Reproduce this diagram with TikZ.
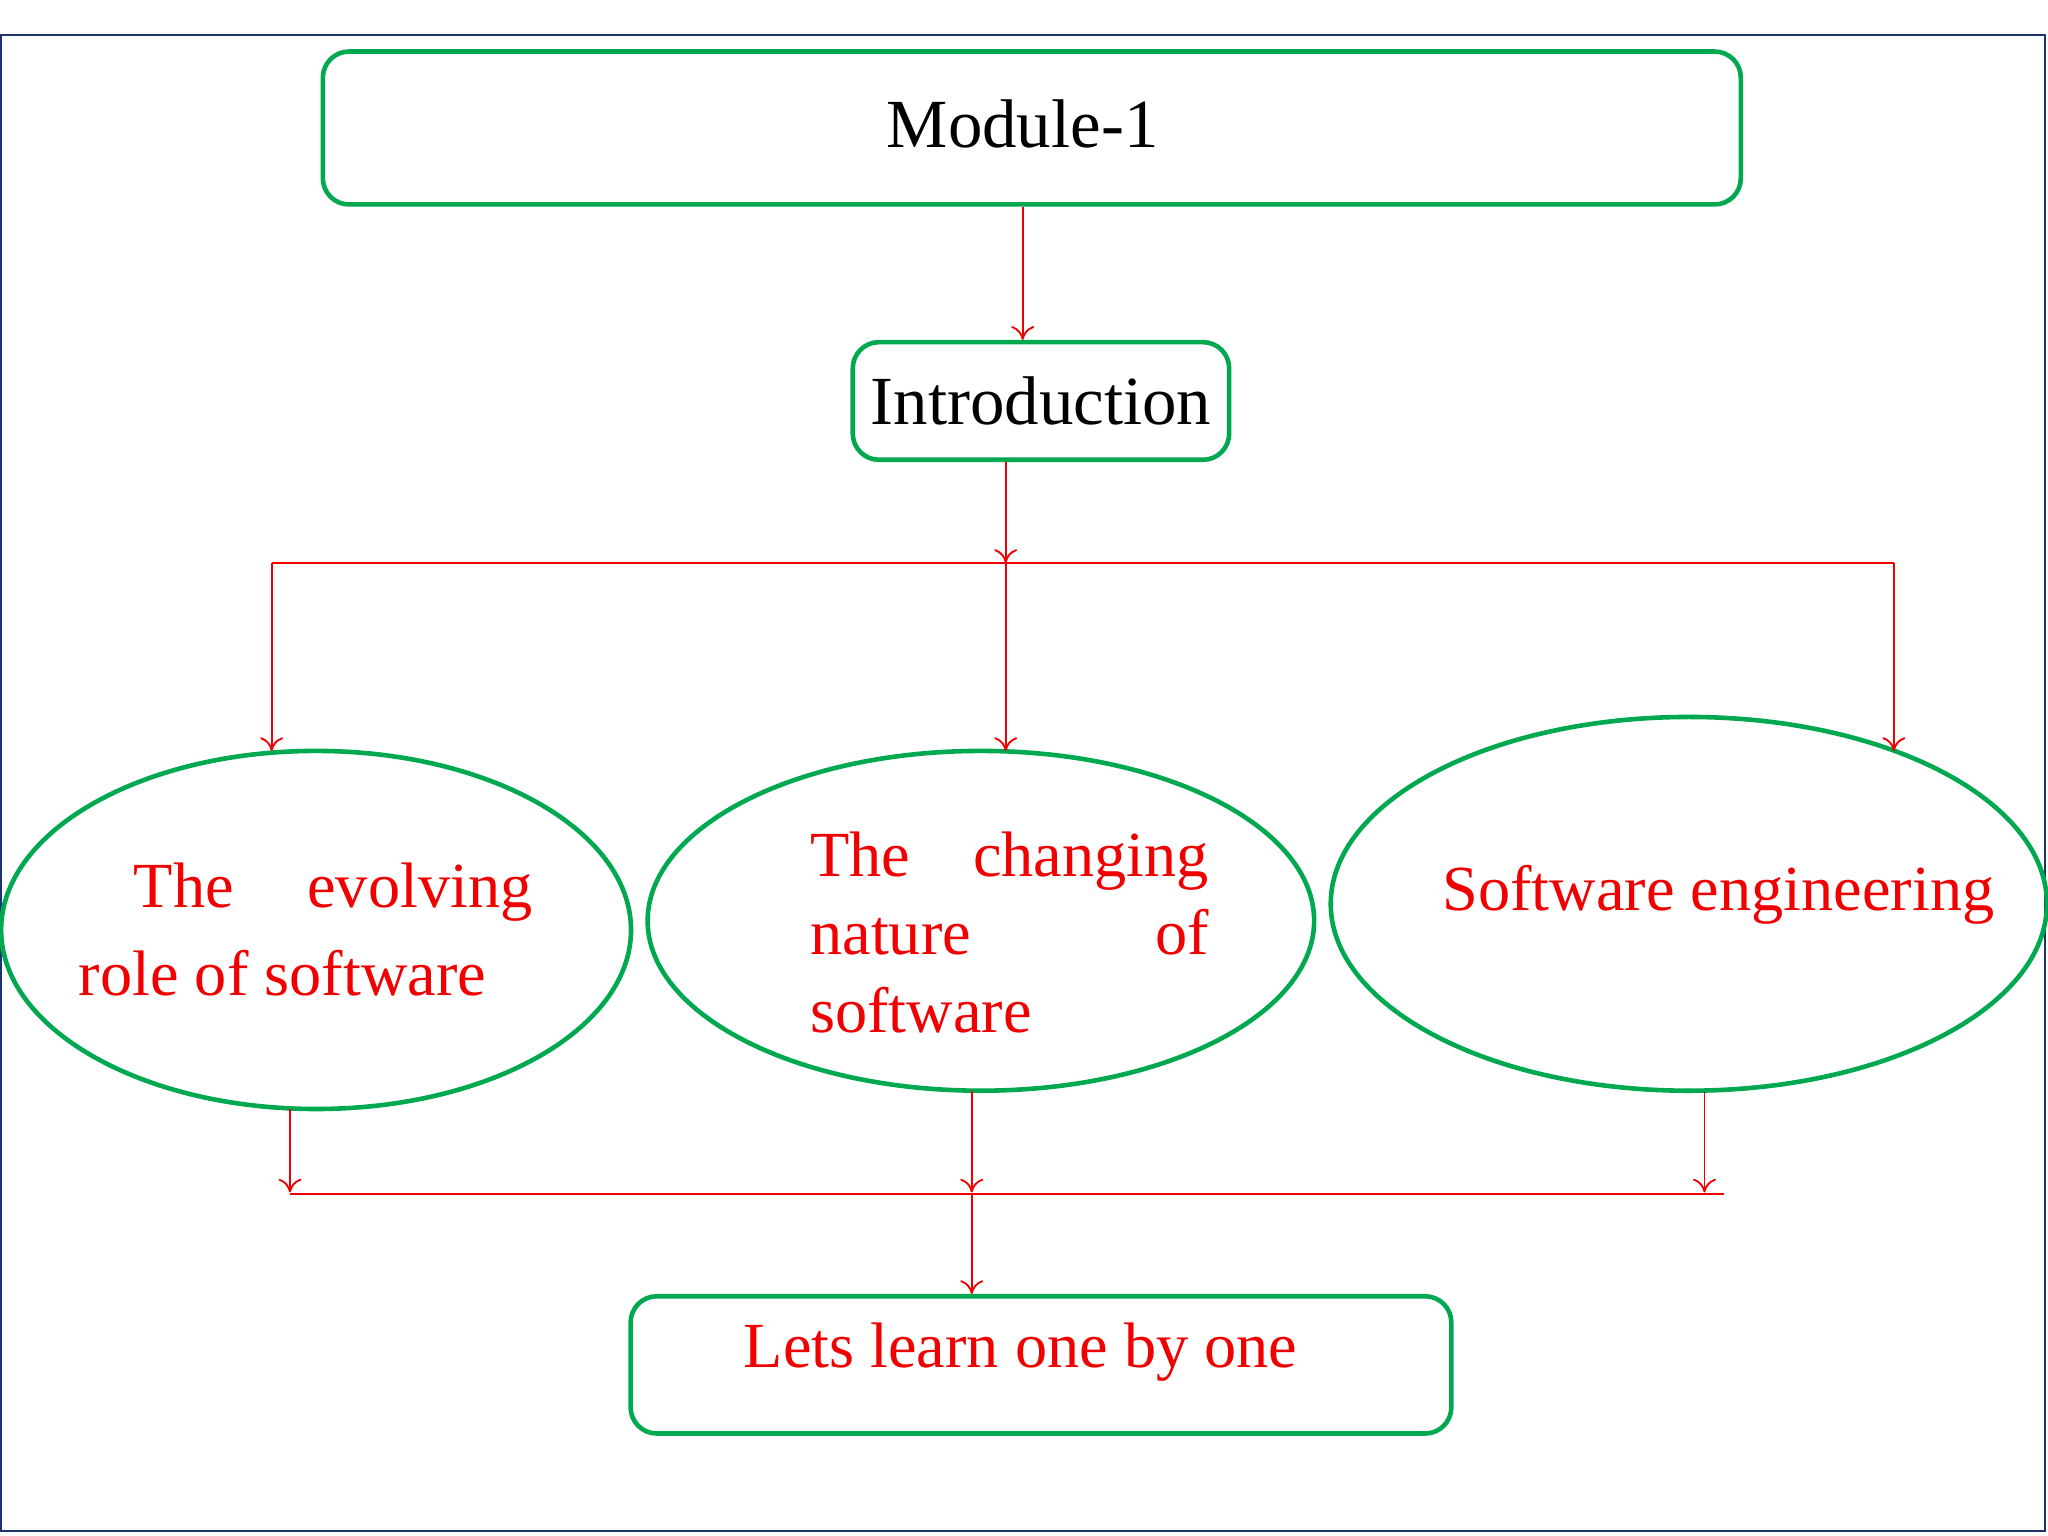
\documentclass[tikz,border=0pt]{standalone}
\usepackage{fontspec}
\setmainfont{Liberation Serif}
\usetikzlibrary{shapes.geometric,arrows.meta}
\definecolor{gr}{RGB}{0,168,80}
\definecolor{rd}{RGB}{240,0,0}
\begin{document}
\begin{tikzpicture}[x=0.01cm,y=-0.01cm,
 box/.style={draw=gr,line width=1pt,rounded corners=0.2cm,inner sep=0},
 ell/.style={draw=gr,line width=1pt,ellipse,inner sep=0},
 rt/.style={text=rd,font=\fontsize{14}{17}\selectfont},
 bt/.style={font=\fontsize{15}{18}\selectfont},
 ar/.style={draw=rd,line width=0.4pt,-{To[length=3pt,width=5pt]}},
 ln/.style={draw=rd,line width=0.4pt}]
\useasboundingbox (0,0) rectangle (1568,1176);
\draw[draw={rgb,255:red,30;green,50;blue,110},line width=0.4pt] (1,27) rectangle (1566,1172);
\node[box,minimum width=10.85cm,minimum height=1.17cm] (m) at (790,98) {};
\node[bt] at (783,95) {Module-1};
\node[box,minimum width=2.88cm,minimum height=0.9cm] (i) at (797,307) {};
\node[bt] at (797,307) {Introduction};
\node[ell,minimum width=4.82cm,minimum height=2.74cm] (e1) at (242,712) {};
\node[ell,minimum width=5.1cm,minimum height=2.6cm] (e2) at (751,705) {};
\node[ell,minimum width=5.48cm,minimum height=2.86cm] (e3) at (1293,692) {};
\node[box,minimum width=6.28cm,minimum height=1.05cm] (b) at (797,1045) {};
\node[rt,text width=3.05cm,anchor=west] at (90,683) {The\hfill evolving};
\node[rt,anchor=west] at (48,745) {role of software};
\node[rt,text width=3.05cm,anchor=west,align=justify] at (608,714) {The\hfill changing\\ nature\hfill of\\ software\hfill\null};
\node[rt,anchor=west] at (1092,685) {Software engineering};
\node[rt,anchor=west] at (557,1035) {Lets learn one by one};
\coordinate (h1) at (208,431); \coordinate (h2) at (1450,431);
\coordinate (l1) at (222,914); \coordinate (l2) at (1320,914);
\draw[ar] (m.south -| 783,0) -- (i.north -| 783,0);
\draw[ar] (i.south -| 770,0) -- (770,431);
\draw[ln] (h1) -- (h2);
\draw[ar] (h1) -- (208,575);
\draw[ar] (770,431) -- (770,575);
\draw[ar] (h2) -- (1450,575);
\draw[ar] (222,849) -- (222,913);
\draw[ar] (744,835) -- (744,913);
\draw[ar] (1305,836) -- (1305,913);
\draw[ln] (l1) -- (l2);
\draw[ar] (744,914) -- (b.north -| 744,0);
\end{tikzpicture}
\end{document}
